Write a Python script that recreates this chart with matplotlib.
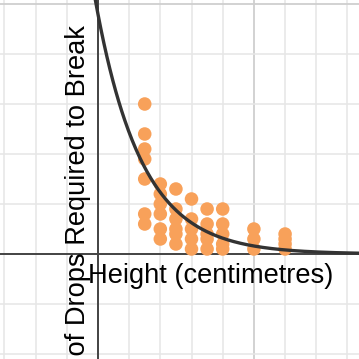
import numpy as np
import matplotlib.pyplot as plt

# drop heights (cm) and number of drops needed to break
heights = [15]*7 + [20]*6 + [25]*6 + [30]*5 + [35]*5 + [40]*5 + [50]*3 + [60]*4
drops = [30, 24, 21, 19, 15, 8, 6,
         14, 12, 10, 8, 5, 3,
         13, 9, 7, 5, 4, 2,
         11, 7, 5, 3, 1,
         9, 6, 4, 3, 1,
         9, 6, 4, 2, 1,
         5, 3, 1,
         4, 3, 2, 1]

# fitted exponential model
a_fit = 48.0
b_fit = 0.068

plt.rcParams['font.family'] = ['Liberation Sans', 'DejaVu Sans']

fig = plt.figure(figsize=(3.59, 3.59), dpi=100)
ax = fig.add_axes([0, 0, 1, 1])

xmin, xmax = -31.4, 83.7
ymin, ymax = -21.0, 50.8
ax.set_xlim(xmin, xmax)
ax.set_ylim(ymin, ymax)

# grid
for gx in np.arange(-30, 90, 10):
    major = gx % 50 == 0
    ax.axvline(gx, color='#cfcfcf' if major else '#e6e6e6', linewidth=1.3 if major else 1.1, zorder=0)
for gy in np.arange(-20, 60, 10):
    major = gy % 50 == 0
    ax.axhline(gy, color='#cfcfcf' if major else '#e6e6e6', linewidth=1.3 if major else 1.1, zorder=0)

# axes
ax.axvline(0, color='#444444', linewidth=1.4, zorder=1)
ax.axhline(0, color='#444444', linewidth=1.4, zorder=1)

# data points
ax.scatter(heights, drops, s=95, color='#f8a15a', edgecolors='none', zorder=2)

# model curve
xs = np.linspace(-5, 90, 400)
ax.plot(xs, a_fit*np.exp(-b_fit*xs), color='#333333', linewidth=2.4, zorder=3)

ax.text(-3.2, -5.8, 'Height (centimetres)', fontsize=19.6, ha='left', va='baseline', zorder=4)
ax.text(-4.2, 45.8, 'Number of Drops Required to Break', fontsize=19.6, rotation=90,
        rotation_mode='anchor', ha='right', va='baseline', zorder=4)

ax.set_xticks([])
ax.set_yticks([])
for s in ax.spines.values():
    s.set_visible(False)

plt.savefig('out.png', dpi=100)
